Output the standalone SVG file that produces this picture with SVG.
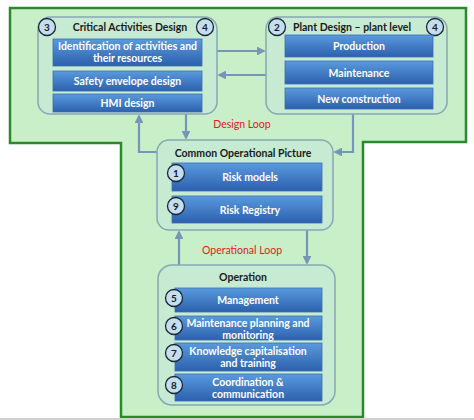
<svg xmlns="http://www.w3.org/2000/svg" width="474" height="420" viewBox="0 0 474 420">
<defs>
<linearGradient id="bg" x1="0" y1="0" x2="0" y2="1">
<stop offset="0" stop-color="#5a9ade"/>
<stop offset="1" stop-color="#2c60ad"/>
</linearGradient>
<marker id="ah" viewBox="0 0 10 10" refX="8" refY="5" markerWidth="4" markerHeight="4" orient="auto">
<path d="M0,0 L10,5 L0,10 z" fill="#7596b6"/>
</marker>
<style>
.grp{fill:#c6ead2;stroke:#88a8b4;stroke-width:1.5}
.box{fill:url(#bg);stroke:#3d6fb0;stroke-width:0.8}
.bt{font-family:Lato,"Liberation Sans",sans-serif;font-weight:bold;font-size:10.5px;fill:#ffffff;text-anchor:middle}
.tt{font-family:Lato,"Liberation Sans",sans-serif;font-weight:bold;font-size:10.5px;fill:#1a1a1a;text-anchor:middle}
.lt{font-family:Lato,"Liberation Sans",sans-serif;font-size:10.5px;fill:#e02020;text-anchor:middle}
.cir{fill:#c4deef;stroke:#1b2633;stroke-width:1.3}
.ct{font-family:Lato,"Liberation Sans",sans-serif;font-weight:bold;font-size:10px;fill:#1a1a1a;text-anchor:middle}
.con{fill:none;stroke:#7596b6;stroke-width:2.2;marker-end:url(#ah)}
</style>
</defs>
<rect width="474" height="420" fill="#ffffff"/>
<path d="M10,8 H466 V142 H363 V417 H121 V143 H10 Z" fill="#c8efc8" stroke="#2a8a2a" stroke-width="2.5"/>
<rect x="0" y="418" width="474" height="2" fill="#d0d0d0"/>

<g id="connectors">
<path class="con" d="M217,51 H264"/>
<path class="con" d="M266,75 H219"/>
<path class="con" d="M186,114 V138"/>
<path class="con" d="M157,152 H139 V116"/>
<path class="con" d="M353,114 V152 H335"/>
<path class="con" d="M307,230 V263"/>
<path class="con" d="M179,265 V232"/>
</g>

<text class="lt" x="242" y="128">Design  Loop</text>
<text class="lt" x="242" y="254">Operational Loop</text>

<g id="critical">
<rect class="grp" x="38" y="17" width="179" height="97" rx="12"/>
<text class="tt" x="130" y="31">Critical Activities Design</text>
<circle class="cir" cx="47" cy="27" r="8.5"/><text class="ct" x="47" y="30.5">3</text>
<circle class="cir" cx="205" cy="27" r="8.5"/><text class="ct" x="205" y="30.5">4</text>
<rect class="box" x="53" y="39" width="149" height="27"/>
<text class="bt" x="127.5" y="50">Identification of activities and</text>
<text class="bt" x="127.5" y="62">their resources</text>
<rect class="box" x="53" y="71" width="149" height="20"/>
<text class="bt" x="127.5" y="85">Safety envelope design</text>
<rect class="box" x="53" y="94" width="149" height="18"/>
<text class="bt" x="127.5" y="107">HMI design</text>
</g>

<g id="plant">
<rect class="grp" x="266" y="17" width="181" height="97" rx="12"/>
<text class="tt" x="352" y="31">Plant Design – plant level</text>
<circle class="cir" cx="277" cy="27" r="8.5"/><text class="ct" x="277" y="30.5">2</text>
<circle class="cir" cx="435" cy="27" r="8.5"/><text class="ct" x="435" y="30.5">4</text>
<rect class="box" x="285" y="35" width="148" height="22"/>
<text class="bt" x="359" y="50">Production</text>
<rect class="box" x="285" y="61" width="148" height="23"/>
<text class="bt" x="359" y="77">Maintenance</text>
<rect class="box" x="285" y="88" width="148" height="21"/>
<text class="bt" x="359" y="103">New construction</text>
</g>

<g id="cop">
<rect class="grp" x="157" y="140" width="176" height="90" rx="12"/>
<text class="tt" x="243" y="157">Common Operational Picture</text>
<rect class="box" x="172" y="163" width="150" height="28"/>
<text class="bt" x="250" y="181">Risk models</text>
<rect class="box" x="172" y="196" width="150" height="27"/>
<text class="bt" x="250" y="214">Risk Registry</text>
<circle class="cir" cx="176" cy="173" r="8.5"/><text class="ct" x="176" y="176.5">1</text>
<circle class="cir" cx="176" cy="206" r="8.5"/><text class="ct" x="176" y="209.5">9</text>
</g>

<g id="operation">
<rect class="grp" x="158" y="265" width="177" height="140" rx="14"/>
<text class="tt" x="243" y="281">Operation</text>
<rect class="box" x="175" y="288" width="147" height="24"/>
<text class="bt" x="248" y="304">Management</text>
<rect class="box" x="175" y="316" width="147" height="24"/>
<text class="bt" x="248" y="327">Maintenance planning and</text>
<text class="bt" x="248" y="339">monitoring</text>
<rect class="box" x="175" y="343" width="147" height="28"/>
<text class="bt" x="248" y="355">Knowledge capitalisation</text>
<text class="bt" x="248" y="367">and training</text>
<rect class="box" x="175" y="374" width="147" height="27"/>
<text class="bt" x="248" y="386">Coordination &amp;</text>
<text class="bt" x="248" y="398">communication</text>
<circle class="cir" cx="174" cy="298" r="8.5"/><text class="ct" x="174" y="301.5">5</text>
<circle class="cir" cx="174" cy="326" r="8.5"/><text class="ct" x="174" y="329.5">6</text>
<circle class="cir" cx="174" cy="353" r="8.5"/><text class="ct" x="174" y="356.5">7</text>
<circle class="cir" cx="174" cy="385" r="8.5"/><text class="ct" x="174" y="388.5">8</text>
</g>
</svg>
